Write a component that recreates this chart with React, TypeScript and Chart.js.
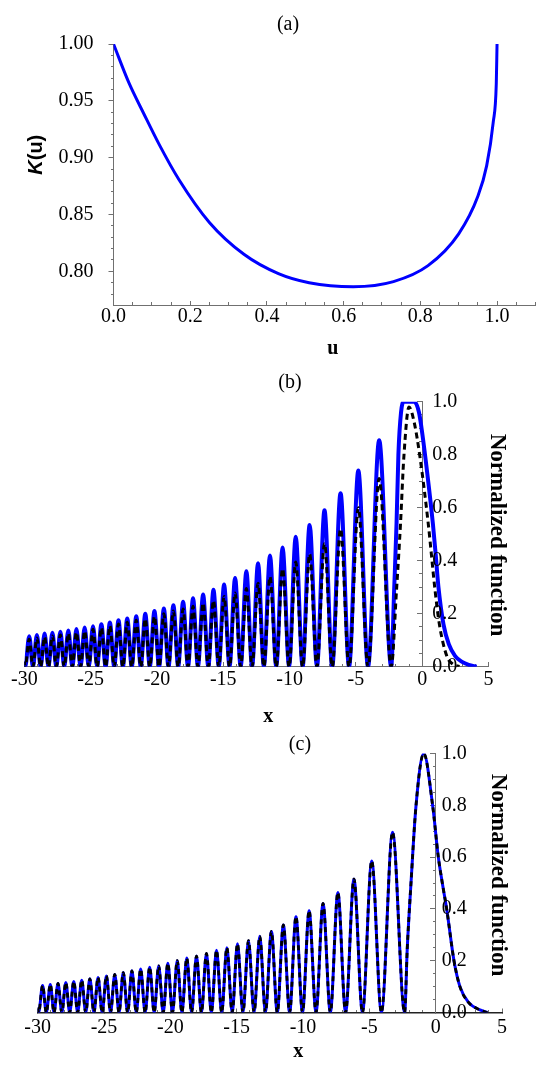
import React, { useEffect, useRef } from 'react';
import { Chart, registerables } from 'chart.js';

Chart.register(...registerables);

// ---------- Panel (a): K(u) ----------
const U_VALUES = [0, 0.04, 0.08, 0.12, 0.17, 0.25, 0.34, 0.43, 0.51, 0.625, 0.73, 0.82, 0.9, 0.95, 0.973, 0.99, 0.998, 1.0];
const K_VALUES = [1.0, 0.966, 0.938, 0.911, 0.881, 0.843, 0.815, 0.798, 0.79, 0.7865, 0.791, 0.805, 0.833, 0.866, 0.893, 0.931, 0.965, 1.0];
const A_X_TICKS = [0, 0.2, 0.4, 0.6, 0.8, 1.0];
const A_Y_TICKS = [0.8, 0.85, 0.9, 0.95, 1.0];
const A_YMIN = 0.7704;

// ---------- Panels (b), (c): oscillating normalized functions ----------
// zeros of the lobes (x), from x = -2.34 leftwards
const LOBE_ZEROS = [-2.34, -4.09, -5.52, -6.79, -7.94, -9.02, -10.04, -11.01, -11.94, -12.83, -13.69, -14.53, -15.34, -16.13, -16.91, -17.66, -18.4, -19.13, -19.84, -20.54, -21.22, -21.9, -22.57, -23.22, -23.87, -24.51, -25.14, -25.76, -26.38, -26.99, -27.59, -28.18, -28.77, -29.35, -29.93];
// lobe maxima positions (x)
const LOBE_PEAK_X = [-3.25, -4.82, -6.16, -7.37, -8.49, -9.54, -10.53, -11.48, -12.38, -13.26, -14.11, -14.94, -15.74, -16.52, -17.28, -18.03, -18.76, -19.48, -20.19, -20.88, -21.56, -22.24, -22.9, -23.55, -24.19, -24.82, -25.45, -26.07, -26.68, -27.28, -27.88, -28.47, -29.05, -29.63];

// (b) blue solid
const B_SOLID_PEAKS = [0.855, 0.74, 0.655, 0.59, 0.535, 0.49, 0.45, 0.42, 0.39, 0.36, 0.335, 0.31, 0.29, 0.272, 0.258, 0.245, 0.232, 0.22, 0.21, 0.2, 0.19, 0.182, 0.175, 0.167, 0.16, 0.153, 0.148, 0.142, 0.137, 0.132, 0.128, 0.125, 0.12, 0.115];
const B_SOLID_MAIN_X = [-2.12, -1.94, -1.8, -1.6, -1.4, -0.6, -0.25, 0.0, 0.4, 0.8, 1.0, 1.22, 1.6, 2.0, 2.48, 3.0, 3.5, 4.1];
const B_SOLID_MAIN_Y = [0.29, 0.54, 0.8, 0.96, 1.0, 1.0, 0.96, 0.88, 0.72, 0.54, 0.43, 0.3, 0.16, 0.085, 0.04, 0.018, 0.007, 0.0];
const B_SOLID_START = 0.02;

// (b) black dashed
const B_DASHED_PEAKS = [0.71, 0.6, 0.52, 0.465, 0.425, 0.395, 0.37, 0.34, 0.315, 0.295, 0.278, 0.265, 0.25, 0.24, 0.228, 0.218, 0.21, 0.2, 0.19, 0.181, 0.175, 0.168, 0.161, 0.154, 0.147, 0.141, 0.135, 0.13, 0.125, 0.12, 0.116, 0.112, 0.108, 0.104];
const B_DASHED_MAIN_X = [-1.94, -1.64, -1.39, -1.0, -0.6, -0.17, 0.45, 0.96, 1.29, 1.85, 2.3, 2.8];
const B_DASHED_MAIN_Y = [0.29, 0.54, 0.79, 0.98, 0.92, 0.79, 0.54, 0.29, 0.16, 0.04, 0.01, 0.0];
const B_DASHED_START = 0.02;

// (c) both curves (blue solid and black dashed overlap)
const C_PEAKS = [0.696, 0.585, 0.515, 0.463, 0.421, 0.393, 0.37, 0.338, 0.313, 0.294, 0.277, 0.265, 0.25, 0.24, 0.228, 0.218, 0.21, 0.2, 0.19, 0.18, 0.175, 0.168, 0.161, 0.154, 0.147, 0.141, 0.135, 0.13, 0.125, 0.12, 0.116, 0.112, 0.108, 0.104];
const C_MAIN_X = [-2.14, -1.86, -1.48, -0.9, -0.23, 0.2, 0.5, 0.83, 1.38, 1.83, 2.46, 3.34, 3.9];
const C_MAIN_Y = [0.25, 0.5, 0.8, 1.0, 0.8, 0.6, 0.5, 0.4, 0.2, 0.1, 0.04, 0.01, 0.0];
const C_START = 0.02;

const LOBE_X_TICKS = [-30, -25, -20, -15, -10, -5, 0, 5];
const LOBE_Y_TICKS = [0, 0.2, 0.4, 0.6, 0.8, 1.0];

const SERIF = '"Liberation Serif", "Times New Roman", serif';
const SANS = '"Liberation Sans", Arial, sans-serif';
const BLUE = '#0000ff';

type Pt = { x: number; y: number };

function buildLobeCurve(start: number, peaks: number[], mainX: number[], mainY: number[]): Pt[] {
  const pts: Pt[] = [{ x: -30, y: start }];
  for (let i = LOBE_PEAK_X.length - 1; i >= 0; i--) {
    pts.push({ x: LOBE_ZEROS[i + 1], y: 0 });
    pts.push({ x: LOBE_PEAK_X[i], y: peaks[i] });
  }
  pts.push({ x: LOBE_ZEROS[0], y: 0 });
  mainX.forEach((x, i) => pts.push({ x, y: mainY[i] }));
  return pts;
}

// Draws panel labels / axis titles (positioned in scale units) and,
// when asked, the y tick labels to the right of an axis that crosses at x = 0.
const textPlugin = {
  id: 'panelText',
  afterDraw(chart: any, _args: any, opts: any) {
    const ctx = chart.ctx;
    const xs = chart.scales.x;
    const ys = chart.scales.y;
    if (opts.yLabels) {
      const ax = xs.getPixelForValue(0);
      ctx.save();
      ctx.fillStyle = '#000';
      ctx.font = opts.yLabels.font;
      ctx.textAlign = 'left';
      ctx.textBaseline = 'middle';
      for (const t of ys.ticks) {
        ctx.fillText(Number(t.value).toFixed(1), ax + opts.yLabels.dx, ys.getPixelForValue(t.value));
      }
      ctx.restore();
    }
    for (const item of opts.items || []) {
      const px = xs.getPixelForValue(item.x);
      const py = ys.getPixelForValue(item.y);
      ctx.save();
      ctx.translate(px, py);
      if (item.rotate) ctx.rotate((item.rotate * Math.PI) / 180);
      ctx.fillStyle = '#000';
      ctx.textBaseline = 'middle';
      ctx.textAlign = 'left';
      let total = 0;
      for (const p of item.parts) {
        ctx.font = p.font;
        total += ctx.measureText(p.text).width;
      }
      let cx = -total / 2;
      for (const p of item.parts) {
        ctx.font = p.font;
        ctx.fillText(p.text, cx, 0);
        cx += ctx.measureText(p.text).width;
      }
      ctx.restore();
    }
  },
};

function minorAxis(axis: 'x' | 'y', min: number, max: number, step: number, pos: any, len: number, color: string) {
  return {
    type: 'linear',
    axis,
    min,
    max,
    position: pos,
    border: { display: false },
    grid: { display: true, drawOnChartArea: false, drawTicks: true, tickLength: len, color, tickColor: color, lineWidth: 1 },
    ticks: { display: false, stepSize: step, includeBounds: false },
  };
}

function configA(): any {
  const axisColor = '#707070';
  return {
    type: 'line',
    data: {
      datasets: [
        {
          data: U_VALUES.map((u, i) => ({ x: u, y: K_VALUES[i] })),
          borderColor: BLUE,
          borderWidth: 3,
          pointRadius: 0,
          cubicInterpolationMode: 'monotone',
          fill: false,
        },
      ],
    },
    options: {
      animation: false,
      responsive: false,
      events: [],
      layout: { padding: { left: 53.5, right: 14.6, top: 44, bottom: 65 } },
      plugins: {
        legend: { display: false },
        tooltip: { enabled: false },
        panelText: {
          items: [
            { x: 0.455, y: 1.0167, parts: [{ text: '(a)', font: `20px ${SERIF}` }] },
            {
              x: -0.1995,
              y: 0.9026,
              rotate: -90,
              parts: [
                { text: 'K', font: `italic bold 20px ${SANS}` },
                { text: '(u)', font: `bold 20px ${SANS}` },
              ],
            },
            { x: 0.572, y: 0.7316, parts: [{ text: 'u', font: `bold 20px ${SERIF}` }] },
          ],
        },
      },
      scales: {
        x: {
          type: 'linear',
          min: 0,
          max: 1.1,
          position: { y: A_YMIN },
          border: { display: true, color: axisColor, width: 1 },
          grid: { display: true, drawOnChartArea: false, drawTicks: true, tickLength: -5, color: axisColor, tickColor: axisColor },
          afterBuildTicks: (s: any) => { s.ticks = A_X_TICKS.map((v) => ({ value: v })); },
          ticks: { autoSkip: false, maxRotation: 0, padding: 5, color: '#000', font: { family: SERIF, size: 20 }, callback: (v: any) => Number(v).toFixed(1) },
        },
        y: {
          type: 'linear',
          min: A_YMIN,
          max: 1.0,
          position: 'left',
          afterFit: (s: any) => { s.width = 60; },
          border: { display: true, color: axisColor, width: 1 },
          grid: { display: true, drawOnChartArea: false, drawTicks: true, tickLength: 5, color: axisColor, tickColor: axisColor },
          afterBuildTicks: (s: any) => { s.ticks = A_Y_TICKS.map((v) => ({ value: v })); },
          ticks: { autoSkip: false, padding: 15, color: '#000', font: { family: SERIF, size: 20 }, callback: (v: any) => Number(v).toFixed(2) },
        },
        xm: minorAxis('x', 0, 1.1, 0.05, { y: A_YMIN }, -3, axisColor),
        ym: minorAxis('y', A_YMIN, 1.0, 0.01, { x: 0 }, 3, axisColor),
      },
    },
    plugins: [textPlugin],
  };
}

function lobeConfig(p: {
  datasets: any[];
  padding: any;
  label: string;
  labelPos: Pt;
  xTitlePos: Pt;
  yTitlePos: Pt;
  xAxisColor: string;
  xAxisWidth: number;
  yLabelDx: number;
  xLabelPad: number;
}): any {
  const axisColor = '#707070';
  return {
    type: 'line',
    data: { datasets: p.datasets },
    options: {
      animation: false,
      responsive: false,
      events: [],
      layout: { padding: p.padding },
      plugins: {
        legend: { display: false },
        tooltip: { enabled: false },
        panelText: {
          yLabels: { dx: p.yLabelDx, font: `20px ${SERIF}` },
          items: [
            { x: p.labelPos.x, y: p.labelPos.y, parts: [{ text: p.label, font: `20px ${SERIF}` }] },
            { x: p.xTitlePos.x, y: p.xTitlePos.y, parts: [{ text: 'x', font: `bold 20px ${SERIF}` }] },
            { x: p.yTitlePos.x, y: p.yTitlePos.y, rotate: 90, parts: [{ text: 'Normalized function', font: `bold 23px ${SERIF}` }] },
          ],
        },
      },
      scales: {
        x: {
          type: 'linear',
          min: -30,
          max: 5,
          position: { y: 0 },
          border: { display: true, color: p.xAxisColor, width: p.xAxisWidth },
          grid: { display: true, drawOnChartArea: false, drawTicks: true, tickLength: -5, color: axisColor, tickColor: axisColor },
          afterBuildTicks: (s: any) => { s.ticks = LOBE_X_TICKS.map((v) => ({ value: v })); },
          ticks: { autoSkip: false, maxRotation: 0, padding: p.xLabelPad, color: '#000', font: { family: SERIF, size: 20 }, callback: (v: any) => String(Math.round(Number(v))) },
        },
        y: {
          type: 'linear',
          min: 0,
          max: 1,
          position: { x: 0 },
          border: { display: true, color: axisColor, width: 1 },
          grid: { display: true, drawOnChartArea: false, drawTicks: true, tickLength: 5, color: axisColor, tickColor: axisColor },
          afterBuildTicks: (s: any) => { s.ticks = LOBE_Y_TICKS.map((v) => ({ value: v })); },
          ticks: { display: false },
        },
        xm: minorAxis('x', -30, 5, 1, { y: 0 }, -3, axisColor),
        ym: minorAxis('y', 0, 1, 0.05, { x: 0 }, 3, axisColor),
      },
    },
    plugins: [textPlugin],
  };
}

function configB(): any {
  return lobeConfig({
    datasets: [
      {
        data: buildLobeCurve(B_DASHED_START, B_DASHED_PEAKS, B_DASHED_MAIN_X, B_DASHED_MAIN_Y),
        borderColor: '#000000',
        borderWidth: 3,
        borderDash: [6, 4],
        pointRadius: 0,
        cubicInterpolationMode: 'monotone',
        fill: false,
        order: 0,
      },
      {
        data: buildLobeCurve(B_SOLID_START, B_SOLID_PEAKS, B_SOLID_MAIN_X, B_SOLID_MAIN_Y),
        borderColor: BLUE,
        borderWidth: 4,
        pointRadius: 0,
        cubicInterpolationMode: 'monotone',
        fill: false,
        order: 1,
      },
    ],
    padding: { left: 24.3, right: 61.4, top: 41.7, bottom: 63.3 },
    label: '(b)',
    labelPos: { x: -9.97, y: 1.0706 },
    xTitlePos: { x: -11.61, y: -0.1887 },
    yTitlePos: { x: 5.63, y: 0.497 },
    xAxisColor: '#707070',
    xAxisWidth: 1,
    yLabelDx: 10,
    xLabelPad: 6,
  });
}

function configC(): any {
  const curve = buildLobeCurve(C_START, C_PEAKS, C_MAIN_X, C_MAIN_Y);
  return lobeConfig({
    datasets: [
      {
        data: curve,
        borderColor: '#000000',
        borderWidth: 2.8,
        borderDash: [5, 4],
        pointRadius: 0,
        cubicInterpolationMode: 'monotone',
        fill: false,
        order: 0,
      },
      {
        data: curve,
        borderColor: BLUE,
        borderWidth: 3,
        pointRadius: 0,
        cubicInterpolationMode: 'monotone',
        fill: false,
        order: 1,
      },
    ],
    padding: { left: 37.7, right: 48, top: 28.5, bottom: 56.5 },
    label: '(c)',
    labelPos: { x: -10.23, y: 1.0355 },
    xTitlePos: { x: -10.36, y: -0.1514 },
    yTitlePos: { x: 4.72, y: 0.531 },
    xAxisColor: '#222222',
    xAxisWidth: 1.5,
    yLabelDx: 6,
    xLabelPad: 8,
  });
}

function ChartCanvas({ top, height, build }: { top: number; height: number; build: () => any }) {
  const ref = useRef<HTMLCanvasElement>(null);
  useEffect(() => {
    if (!ref.current) return;
    const chart = new Chart(ref.current, build());
    return () => chart.destroy();
  }, [build]);
  return (
    <canvas
      ref={ref}
      width={550}
      height={height}
      style={{ position: 'absolute', left: 0, top, width: 550, height, display: 'block' }}
    />
  );
}

export default function App() {
  return (
    <div style={{ position: 'absolute', left: 0, top: 0, width: 550, height: 1069, background: '#fff', overflow: 'hidden' }}>
      <ChartCanvas top={0} height={370} build={configA} />
      <ChartCanvas top={360} height={370} build={configB} />
      <ChartCanvas top={725} height={344} build={configC} />
    </div>
  );
}
